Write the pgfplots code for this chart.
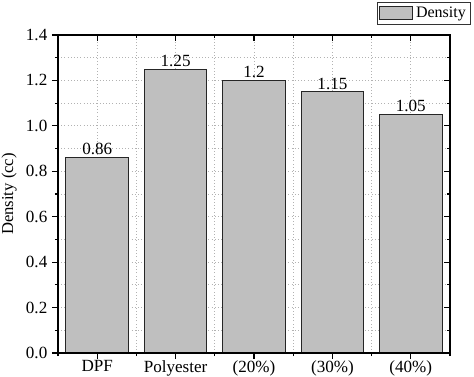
\documentclass[border=0pt]{standalone}
\usepackage{pgfplots}
\pgfplotsset{compat=1.18}
\usepackage{fontspec}
\setmainfont{Liberation Serif}
\begin{document}
\begin{tikzpicture}[x=0.75pt,y=0.75pt]
\path[use as bounding box] (-58,-23) rectangle (416,353);
\begin{axis}[at={(0,0)}, anchor=south west, scale only axis,
  width=294pt, height=238.5pt,
  xmin=-0.5, xmax=4.5, ymin=0, ymax=1.4,
  ybar, bar width=0.8,
  xtick={0,1,2,3,4}, xticklabels={DPF,Polyester,(20\%),(30\%),(40\%)},
  minor xtick={-0.5,0.5,1.5,2.5,3.5,4.5},
  ytick={0,0.2,0.4,0.6,0.8,1.0,1.2,1.4},
  minor ytick={0.1,0.3,0.5,0.7,0.9,1.1,1.3},
  /pgf/number format/assume math mode=true,
  yticklabel style={/pgf/number format/.cd,fixed,fixed zerofill,precision=1},
  xticklabel style={yshift=2.5pt},
  xtick pos=left, ytick pos=left, tick align=outside,
  major tick length=4.5pt, minor tick length=2.4pt,
  tick style={black, line width=0.8pt},
  axis line style={black, line width=1pt},
  grid=both,
  major grid style={dotted, gray!60, line width=0.6pt},
  minor grid style={dotted, gray!60, line width=0.6pt},
  ticklabel style={font=\fontsize{12.8}{14}\selectfont},
  ylabel={Density (cc)},
  ylabel style={font=\fontsize{12.5}{14}\selectfont},
  nodes near coords,
  every node near coord/.append style={font=\fontsize{12.8}{14}\selectfont, black, inner sep=1.5pt},
  legend style={at={(1.0536,1.1038)}, anchor=north east, draw=black!80, line width=0.8pt,
    font=\fontsize{12}{13}\selectfont, inner sep=1.5pt, row sep=0pt},
  legend image code/.code={\draw[#1] (-0.02cm,-0.16cm) rectangle (0.85cm,0.19cm);},
]
\addplot[fill=black!25, draw=black!85, line width=0.8pt]
  coordinates {(0,0.86) (1,1.25) (2,1.2) (3,1.15) (4,1.05)};
\addlegendentry{Density}
\end{axis}
\begin{axis}[at={(0,0)}, anchor=south west, scale only axis,
  width=294pt, height=238.5pt,
  xmin=-0.5, xmax=4.5, ymin=0, ymax=1.4,
  xtick={0,1,2,3,4}, xticklabels={},
  minor xtick={-0.5,0.5,1.5,2.5,3.5,4.5},
  ytick={0,0.2,0.4,0.6,0.8,1.0,1.2,1.4}, yticklabels={},
  minor ytick={0.1,0.3,0.5,0.7,0.9,1.1,1.3},
  xtick pos=right, ytick pos=right, tick align=inside,
  major tick length=4.5pt, minor tick length=2.4pt,
  tick style={black, line width=0.8pt},
  axis line style={black, line width=1pt},
]
\end{axis}
\end{tikzpicture}
\end{document}
